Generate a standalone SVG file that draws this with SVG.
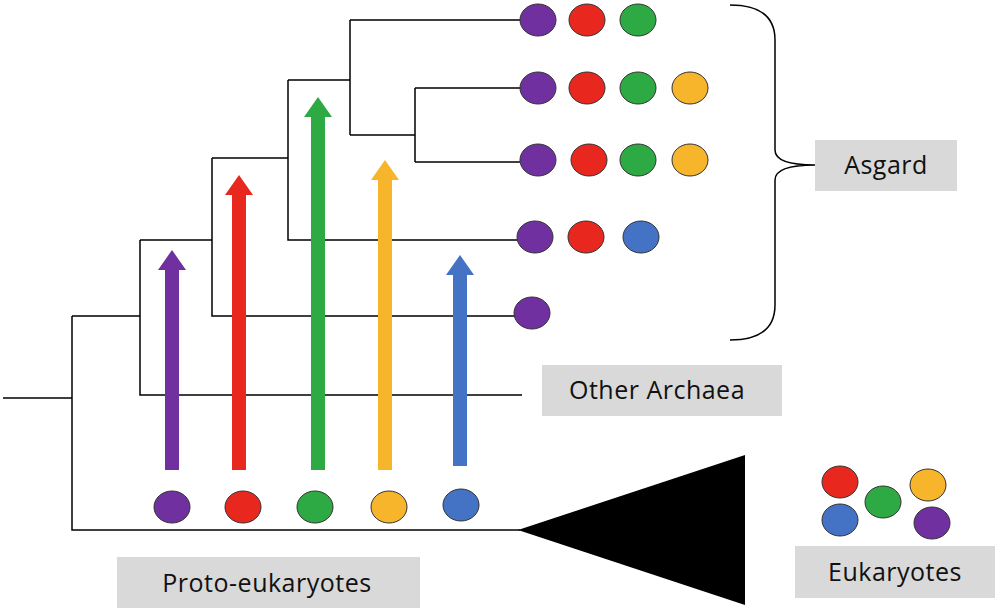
<svg xmlns="http://www.w3.org/2000/svg" width="1000" height="612" viewBox="0 0 1000 612">
<style>
.t{fill:none;stroke:#000;stroke-width:1.5}
.c{stroke:#333;stroke-width:1}
.p{fill:#7030a0}.r{fill:#e8281e}.g{fill:#2eaa44}.o{fill:#f7b52c}.b{fill:#4472c4}
.box{fill:#d9d9d9}
.l{font-family:"Open Sans","Liberation Sans",Arial,sans-serif;font-size:25px;fill:#111;text-anchor:middle;letter-spacing:0.5px}
</style>
<rect width="1000" height="612" fill="#fff"/>
<g id="connectors" class="t">
<path d="M3 398H72M72 316V530H520M72 316H140M140 240V395H522M140 240H212M212 158V316H518M212 158H288M288 80V240H520M288 80H350M350 20V135M350 20H520M350 135H415M415 88V162M415 88H520M415 162H520"/>
<path d="M730 5Q775 5 775 40V150Q775 165 815 165Q775 165 775 180V305Q775 340 730 340"/>
</g>
<g id="arrows">
<path class="p" d="M165 470V270H158L172 250L186 270H179V470Z"/>
<path class="r" d="M232 470V195H225L239 175L253 195H246V470Z"/>
<path class="g" d="M311 470V117H304L318 97L332 117H325V470Z"/>
<path class="o" d="M378 470V180H371L385 160L399 180H392V470Z"/>
<path class="b" d="M453 466V275H446L460 255L474 275H467V466Z"/>
</g>
<g id="tips" class="c">
<ellipse class="p" cx="538" cy="20" rx="18" ry="16"/><ellipse class="r" cx="587" cy="20" rx="18" ry="16"/><ellipse class="g" cx="638" cy="20" rx="18" ry="16"/>
<ellipse class="p" cx="538" cy="88" rx="18" ry="16"/><ellipse class="r" cx="587" cy="88" rx="18" ry="16"/><ellipse class="g" cx="638" cy="88" rx="18" ry="16"/><ellipse class="o" cx="690" cy="88" rx="18" ry="16"/>
<ellipse class="p" cx="538" cy="160" rx="18" ry="16"/><ellipse class="r" cx="589" cy="160" rx="18" ry="16"/><ellipse class="g" cx="638" cy="160" rx="18" ry="16"/><ellipse class="o" cx="690" cy="160" rx="18" ry="16"/>
<ellipse class="p" cx="535" cy="237" rx="18" ry="16"/><ellipse class="r" cx="586" cy="237" rx="18" ry="16"/><ellipse class="b" cx="641" cy="237" rx="18" ry="16"/>
<ellipse class="p" cx="532" cy="313" rx="18" ry="16"/>
</g>
<g id="proto-circles" class="c">
<ellipse class="p" cx="172" cy="507" rx="18" ry="16"/><ellipse class="r" cx="243" cy="507" rx="18" ry="16"/><ellipse class="g" cx="315" cy="507" rx="18" ry="16"/><ellipse class="o" cx="389" cy="507" rx="18" ry="16"/><ellipse class="b" cx="461" cy="505" rx="18" ry="16"/>
</g>
<g id="euk-circles" class="c">
<ellipse class="r" cx="840" cy="482" rx="18" ry="16"/><ellipse class="g" cx="883" cy="502" rx="18" ry="16"/><ellipse class="o" cx="928" cy="485" rx="18" ry="16"/><ellipse class="b" cx="840" cy="520" rx="18" ry="16"/><ellipse class="p" cx="932" cy="523" rx="18" ry="16"/>
</g>
<g id="eukaryotes-triangle"><polygon points="518,530 745,455 745,605" fill="#000"/></g>
<g id="asgard"><rect class="box" x="815" y="140" width="142" height="51"/><text class="l" x="886" y="174">Asgard</text></g>
<g id="other-archaea"><rect class="box" x="542" y="365" width="240" height="51"/><text class="l" x="657" y="399">Other Archaea</text></g>
<g id="proto-eukaryotes"><rect class="box" x="117" y="557" width="303" height="51"/><text class="l" x="267" y="592">Proto-eukaryotes</text></g>
<g id="eukaryotes"><rect class="box" x="795" y="546" width="200" height="52"/><text class="l" x="895" y="581">Eukaryotes</text></g>
</svg>
